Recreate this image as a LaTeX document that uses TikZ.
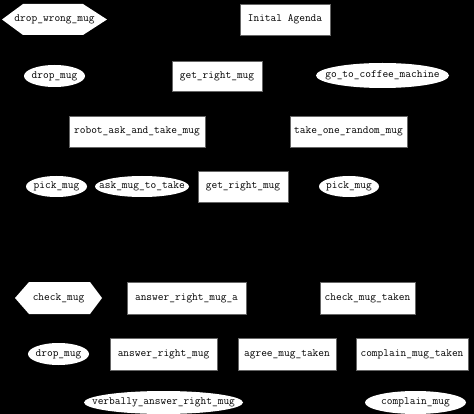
\documentclass[tikz,border=0pt]{standalone}
\usepackage{fontspec}
\begin{document}
\begin{tikzpicture}[x=1pt,y=-1pt,
  every node/.style={font=\fontsize{11.1}{13}\selectfont\ttfamily, inner sep=0pt},
  boxnode/.style={rectangle, fill=white, draw=black!60, line width=0.4pt},
  shapefill/.style={fill=white, draw=none},
  txt/.style={}]
\fill[black] (0,0) rectangle (474,414);
\useasboundingbox (0,0) rectangle (474,414);
% hexagons
\fill[shapefill] (2,19.5) -- (23,4) -- (83,4) -- (107,19.5) -- (83,35) -- (23,35) -- cycle;
\node[txt] (dwm) at (54.5,19.5) {drop\_wrong\_mug};
\fill[shapefill] (15,298) -- (29,282) -- (90,282) -- (102,298) -- (90,314) -- (29,314) -- cycle;
\node[txt] (chk) at (58.5,298) {check\_mug};
% rectangles
\node[boxnode, minimum width=90pt, minimum height=31pt] (ia) at (285,19.5) {Inital Agenda};
\node[boxnode, minimum width=90pt, minimum height=30pt] (grm1) at (217,76) {get\_right\_mug};
\node[boxnode, minimum width=136pt, minimum height=31pt] (ratm) at (137,131.5) {robot\_ask\_and\_take\_mug};
\node[boxnode, minimum width=117pt, minimum height=31pt] (torm) at (348.5,131.5) {take\_one\_random\_mug};
\node[boxnode, minimum width=90pt, minimum height=31pt] (grm2) at (243,186.5) {get\_right\_mug};
\node[boxnode, minimum width=119pt, minimum height=32pt] (arma) at (186.5,298) {answer\_right\_mug\_a};
\node[boxnode, minimum width=95pt, minimum height=32pt] (cmt) at (367.5,298) {check\_mug\_taken};
\node[boxnode, minimum width=107pt, minimum height=32pt] (arm) at (163.5,354) {answer\_right\_mug};
\node[boxnode, minimum width=98pt, minimum height=32pt] (amt) at (287,354) {agree\_mug\_taken};
\node[boxnode, minimum width=112pt, minimum height=32pt] (cmtk) at (412,354) {complain\_mug\_taken};
% ellipses
\fill[shapefill] (54.5,76) ellipse (30.5 and 11);
\node[txt] (dm1) at (54.5,76) {drop\_mug};
\fill[shapefill] (382.5,75.5) ellipse (66.5 and 12.5);
\node[txt] (gtcm) at (382.5,75.5) {go\_to\_coffee\_machine};
\fill[shapefill] (56.5,186.5) ellipse (30.5 and 10.5);
\node[txt] (pm1) at (56.5,186.5) {pick\_mug};
\fill[shapefill] (142,186.5) ellipse (47 and 10.5);
\node[txt] (amtt) at (142,186.5) {ask\_mug\_to\_take};
\fill[shapefill] (349,186.5) ellipse (30 and 10.5);
\node[txt] (pm2) at (349,186.5) {pick\_mug};
\fill[shapefill] (58.5,354) ellipse (30.5 and 11);
\node[txt] (dm2) at (58.5,354) {drop\_mug};
\fill[shapefill] (163.5,402.5) ellipse (79.5 and 11.5);
\node[txt] (varm) at (163.5,402.5) {verbally\_answer\_right\_mug};
\fill[shapefill] (415.5,402.5) ellipse (50.5 and 11.5);
\node[txt] (cm) at (415.5,402.5) {complain\_mug};
\end{tikzpicture}
\end{document}
